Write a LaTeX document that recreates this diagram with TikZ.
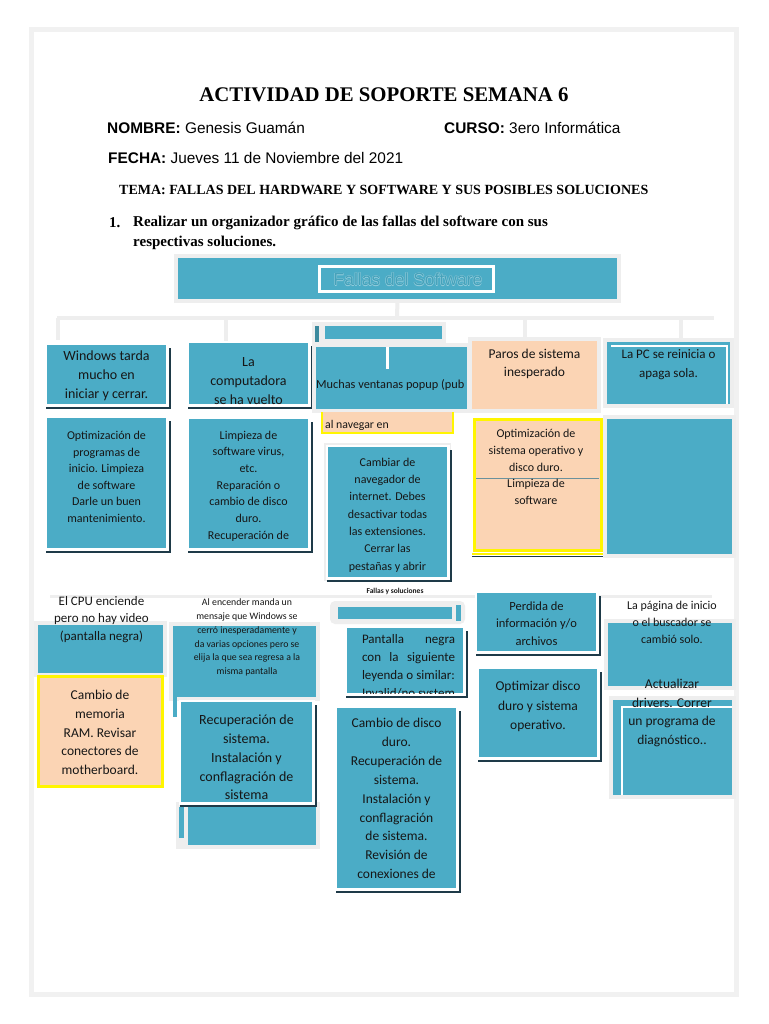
\documentclass[tikz,border=0pt]{standalone}
\usepackage{fontspec}
\setmainfont{Carlito}
\newfontfamily\arialfont{Liberation Sans}
\newfontfamily\cambriafont{Liberation Serif}
\usetikzlibrary{positioning}

\definecolor{tealbox}{RGB}{75,172,198}
\definecolor{peachbox}{RGB}{251,212,180}
\definecolor{yellowline}{RGB}{255,245,0}
\definecolor{framegray}{RGB}{238,238,238}
\definecolor{shadowcol}{RGB}{30,58,72}
\definecolor{inktext}{RGB}{22,22,22}

\tikzset{
  boxtext/.style={align=center, inner sep=0, text=inktext}
}
\tikzset{
  headtext/.style={anchor=west, inner sep=0, font=\arialfont\fontsize{15.4}{18}\selectfont},
  busline/.style={draw=framegray, line width=4}
}
% teal box with a thin dark shadow, right and bottom
\newcommand{\dropbox}[4]{%
  \fill[shadowcol] ({#1-1},{#2+3}) rectangle ({#3+4.5},{#4+4.5});
  \fill[white] ({#1-2},{#2-2}) rectangle ({#3+2.5},{#4+2.5});
  \fill[tealbox] (#1,#2) rectangle (#3,#4);}
% box with a light grey rim
\newcommand{\panelbox}[5]{%
  \fill[framegray] ({#1-4},{#2-4}) rectangle ({#3+4},{#4+4});
  \fill[#5] (#1,#2) rectangle (#3,#4);}

\begin{document}
\begin{tikzpicture}[x=1pt,y=-1pt]
  \fill[white] (0,0) rectangle (768,1024);
  \useasboundingbox (0,0) rectangle (768,1024);
  \draw[framegray!80!white, line width=5] (31.5,29.5) rectangle (736,994);

  % header
  \node[inner sep=0, font=\cambriafont\bfseries\fontsize{20.8}{23}\selectfont] (title) at (384,95) {ACTIVIDAD DE SOPORTE SEMANA 6};
  \node[headtext] (nombre) at (107,128) {\textbf{NOMBRE:} Genesis Guamán};
  \node[headtext] (curso) at (444,128) {\textbf{CURSO:} 3ero Informática};
  \node[headtext] (fecha) at (108,158) {\textbf{FECHA:} Jueves 11 de Noviembre del 2021};
  \node[anchor=west, inner sep=0, font=\cambriafont\bfseries\fontsize{14}{17}\selectfont] (tema) at (119,190) {TEMA: FALLAS DEL HARDWARE Y SOFTWARE Y SUS POSIBLES SOLUCIONES};
  \node[anchor=west, inner sep=0, font=\cambriafont\bfseries\fontsize{15}{20}\selectfont] (num) at (109,222.5) {1.};
  \node[anchor=north west, inner sep=0, align=left, font=\cambriafont\bfseries\fontsize{15}{20}\selectfont] (consigna) at (133,215.5) {Realizar un organizador gráfico de las fallas del software con sus\\respectivas soluciones.};

  % root
  \fill[framegray] (174,254) rectangle (621,303);
  \node[fill=tealbox, minimum width=439, minimum height=41, inner sep=0] (root) at (397.5,278.5) {};
  \node[draw=white, line width=3, fill=tealbox, minimum width=174, minimum height=25, inner sep=0] (rootlabel) at (406.5,279) {};
  \foreach \ox/\oy [count=\i] in {-0.5/0, 0.5/0, 0/-0.5, 0/0.5}
    \node[inner sep=0, text=white!40!tealbox, font=\arialfont\fontsize{17.5}{19}\selectfont] (roothalo\i) at ({408+\ox},{279.5+\oy}) {Fallas del Software};
  \node[inner sep=0, text=tealbox!94!black, font=\arialfont\fontsize{17.5}{19}\selectfont] (roottext) at (408,279.5) {Fallas del Software};

  % bus
  \coordinate (bus) at (397,318);
  \draw[busline] (root.south) -- (bus);
  \draw[busline] (57,318) -- (714,318);
  \foreach \dx/\dy [count=\i] in {58/340, 226/343, 525/341, 681/343}{
    \coordinate (drop\i) at (\dx,\dy);
    \draw[busline] (drop\i |- bus) -- (drop\i);
  }
  \fill[framegray] (312,322) rectangle (446,343);
  \fill[tealbox] (325,326) rectangle (442,339);
  \fill[tealbox!80!black] (315,326) rectangle (319,342);

  % fallas, first row
  \dropbox{47}{345}{166}{404}
  \node[boxtext, font=\fontsize{14}{19}\selectfont] (f-win) at (106.5,376) {Windows tarda\\mucho en\\iniciar y cerrar.};
  \dropbox{189}{343}{308}{404}
  \node[boxtext, font=\fontsize{14}{19}\selectfont] (f-comp) at (248.5,381) {La\\computadora\\se ha vuelto};
  \panelbox{316}{347}{467}{409}{tealbox}
  \draw[white, line width=3] (387,347) -- (387,369);
  \begin{scope}
    \clip (316,347) rectangle (467,409);
    \node[boxtext, anchor=west, font=\fontsize{12.3}{14}\selectfont] (f-popup) at (316,385) {Muchas ventanas popup (pub};
  \end{scope}
  \fill[peachbox] (322,412) rectangle (453,433);
  \draw[yellowline, line width=2] (322,412) -- (322,433) -- (453,433) -- (453,412);
  \node[boxtext, anchor=west, font=\fontsize{11.8}{14}\selectfont] (f-naveg) at (325,425) {al navegar en};
  \panelbox{472}{341}{597}{409}{peachbox}
  \node[boxtext, font=\fontsize{13.5}{18}\selectfont] (f-paros) at (534.5,364) {Paros de sistema\\inesperado};
  \panelbox{607}{342}{730}{404}{tealbox}
  \draw[white, line width=1.2] (611,346) -- (727,346) -- (727,404);
  \node[boxtext, font=\fontsize{13}{19}\selectfont] (f-reinicia) at (668.5,364.5) {La PC se reinicia o\\apaga sola.};

  % soluciones, first row
  \dropbox{47}{418}{166}{548}
  \node[boxtext, font=\fontsize{12}{16.5}\selectfont] (s-win) at (106.5,477) {Optimización de\\programas de\\inicio. Limpieza\\de software\\Darle un buen\\mantenimiento.};
  \dropbox{189}{419}{308}{548}
  \node[boxtext, font=\fontsize{12}{16.7}\selectfont] (s-comp) at (248.5,486) {Limpieza de\\software virus,\\etc.\\Reparación o\\cambio de disco\\duro.\\Recuperación de};
  \fill[framegray] (324,443) rectangle (451,581);
  \dropbox{328}{447}{447}{577}
  \node[boxtext, font=\fontsize{12}{17.3}\selectfont] (s-popup) at (387.5,515) {Cambiar de\\navegador de\\internet. Debes\\desactivar todas\\las extensiones.\\Cerrar las\\pestañas y abrir};
  \draw[shadowcol, line width=1.5] (472,556.5) -- (603,556.5);
  \draw[yellowline, line width=2] (472,553.5) -- (603,553.5);
  \draw[yellowline, line width=3, fill=peachbox] (474,419) rectangle (601,550);
  \draw[gray!60!tealbox, line width=0.8] (476,478) -- (599,478);
  \node[boxtext, font=\fontsize{12}{17}\selectfont] (s-paros) at (536,450) {Optimización de\\sistema operativo y\\disco duro.};
  \node[boxtext, font=\fontsize{12}{16.5}\selectfont] (s-paros2) at (536,492) {Limpieza de\\software};
  \panelbox{607}{419}{732}{554}{tealbox}

  \draw[framegray, line width=3] (50,596) -- (712,596);
  \node[boxtext, font=\bfseries\fontsize{7.5}{9}\selectfont] (subtitulo) at (395,591) {Fallas y soluciones};

  % second group
  \panelbox{38}{625}{163}{673}{tealbox}
  \node[boxtext, font=\fontsize{13}{17.5}\selectfont] (f-cpu) at (101.5,619.5) {El CPU enciende\\pero no hay video\\(pantalla negra)};
  \draw[yellowline, line width=3, fill=peachbox] (38,676) rectangle (162,786);
  \node[boxtext, font=\fontsize{13.5}{18.8}\selectfont] (s-cpu) at (100,732.5) {Cambio de\\memoria\\RAM. Revisar\\conectores de\\motherboard.};

  \panelbox{173}{626}{316}{697}{tealbox}
  \fill[tealbox] (173,697) rectangle (177,717);
  \node[boxtext, font=\fontsize{9.8}{13.8}\selectfont] (f-mensaje) at (247,637.5) {Al encender manda un\\mensaje que Windows se\\cerró inesperadamente y\\da varias opciones pero se\\elija la que sea regresa a la\\misma pantalla};
  \fill[framegray] (176,802) rectangle (320,849);
  \fill[tealbox] (179,807) rectangle (184,838);
  \fill[tealbox] (188,805) rectangle (316,845);
  \dropbox{181}{702}{312}{802}
  \node[boxtext, font=\fontsize{14}{18.8}\selectfont] (s-mensaje) at (246.5,757.5) {Recuperación de\\sistema.\\Instalación y\\conflagración de\\sistema};

  \fill[framegray, rounded corners=5] (330,601) rectangle (465,624);
  \fill[tealbox] (338,607) rectangle (452,619);
  \fill[tealbox] (456,605) rectangle (461,621);
  \dropbox{347}{628}{463}{693}
  \begin{scope}
    \clip (347,628) rectangle (463,693);
    \node[boxtext, align=left, font=\fontsize{13}{18.2}\selectfont] (f-pantalla) at (408.5,667) {\makebox[93pt][s]{Pantalla negra}\\\makebox[93pt][s]{con la siguiente}\\\makebox[93pt][s]{leyenda o similar:}\\\makebox[93pt][s]{Invalid/no system}};
  \end{scope}
  \dropbox{337}{708}{456}{888}
  \node[boxtext, font=\fontsize{13.5}{18.9}\selectfont] (s-pantalla) at (396.5,798.5) {Cambio de disco\\duro.\\Recuperación de\\sistema.\\Instalación y\\conflagración\\de sistema.\\Revisión de\\conexiones de};

  \dropbox{477}{593}{596}{651}
  \node[boxtext, font=\fontsize{12.5}{17.5}\selectfont] (f-perdida) at (536.5,623.5) {Perdida de\\información y/o\\archivos};
  \dropbox{479}{669}{597}{757}
  \node[boxtext, font=\fontsize{13.5}{19.5}\selectfont] (s-perdida) at (538,706.5) {Optimizar disco\\duro y sistema\\operativo.};

  \panelbox{608}{623}{732}{686}{tealbox}
  \node[boxtext, font=\fontsize{12}{17}\selectfont] (f-pagina) at (672,622) {La página de inicio\\o el buscador se\\cambió solo.};
  \panelbox{613}{700}{732}{795}{tealbox}
  \draw[white, line width=2] (622,795) -- (622,707) -- (732,707);
  \node[boxtext, font=\fontsize{13.5}{18.7}\selectfont] (s-pagina) at (672,713) {Actualizar\\drivers. Correr\\un programa de\\diagnóstico..};
\end{tikzpicture}
\end{document}
